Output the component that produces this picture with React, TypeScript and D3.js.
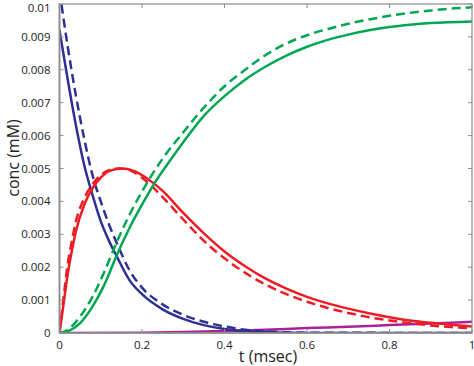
import React from "react";
import * as d3 from "d3";

const xTicks = [0, 0.2, 0.4, 0.6, 0.8, 1];
const xTickLabels = ["0", "0.2", "0.4", "0.6", "0.8", "1"];
const yTicks = [0, 0.001, 0.002, 0.003, 0.004, 0.005, 0.006, 0.007, 0.008, 0.009, 0.01];
const yTickLabels = ["0", "0.001", "0.002", "0.003", "0.004", "0.005", "0.006", "0.007", "0.008", "0.009", "0.01"];

const blueSolid: [number, number][] = [
  [0, 0.0092], [0.02, 0.0077], [0.04, 0.0063], [0.06, 0.0051], [0.08, 0.0042], [0.1, 0.0034],
  [0.12, 0.0028], [0.14, 0.0023], [0.17, 0.0016], [0.2, 0.00118], [0.25, 0.00072], [0.3, 0.00043],
  [0.35, 0.00024], [0.4, 0.00012], [0.45, 0.00005], [0.5, 0.00002], [0.6, 0], [1, 0],
];
const blueDashed: [number, number][] = [
  [0, 0.0104], [0.02, 0.0087], [0.04, 0.0072], [0.06, 0.0059], [0.08, 0.0048], [0.1, 0.004],
  [0.12, 0.0033], [0.14, 0.0027], [0.17, 0.0019], [0.2, 0.00138], [0.25, 0.00087], [0.3, 0.00055],
  [0.35, 0.00034], [0.4, 0.0002], [0.45, 0.0001], [0.5, 0.00005], [0.6, 0.00001], [1, 0],
];
const redSolid: [number, number][] = [
  [0, 0], [0.01, 0.0009], [0.02, 0.0018], [0.03, 0.0025], [0.04, 0.0031], [0.06, 0.0039],
  [0.08, 0.0044], [0.1, 0.00472], [0.12, 0.00492], [0.15, 0.005], [0.18, 0.00493], [0.21, 0.00472],
  [0.25, 0.00432], [0.3, 0.00365], [0.35, 0.00303], [0.4, 0.00248], [0.45, 0.00203], [0.5, 0.00165],
  [0.55, 0.00135], [0.6, 0.0011], [0.65, 0.0009], [0.7, 0.00074], [0.75, 0.0006], [0.8, 0.00048],
  [0.85, 0.00038], [0.9, 0.00031], [0.95, 0.00025], [1, 0.0002],
];
const redDashed: [number, number][] = [
  [0, 0], [0.01, 0.0011], [0.02, 0.0021], [0.03, 0.0028], [0.04, 0.0034], [0.06, 0.0041],
  [0.08, 0.00452], [0.1, 0.0048], [0.12, 0.00495], [0.145, 0.005], [0.17, 0.00495], [0.2, 0.00472],
  [0.25, 0.00413], [0.3, 0.00345], [0.35, 0.0028], [0.4, 0.00227], [0.45, 0.00183], [0.5, 0.00147],
  [0.55, 0.00118], [0.6, 0.00095], [0.65, 0.00076], [0.7, 0.00061], [0.75, 0.00048], [0.8, 0.00038],
  [0.85, 0.0003], [0.9, 0.00023], [0.95, 0.00018], [1, 0.00014],
];
const greenSolid: [number, number][] = [
  [0, 0], [0.02, 0.00005], [0.05, 0.0003], [0.08, 0.0008], [0.11, 0.0015], [0.14, 0.0024],
  [0.17, 0.0032], [0.2, 0.0039], [0.23, 0.00455], [0.26, 0.0051], [0.3, 0.0058], [0.35, 0.0066],
  [0.4, 0.0072], [0.45, 0.0077], [0.5, 0.0081], [0.55, 0.00843], [0.6, 0.0087], [0.65, 0.00891],
  [0.7, 0.00907], [0.75, 0.0092], [0.8, 0.0093], [0.85, 0.00937], [0.9, 0.00942], [1, 0.00947],
];
const greenDashed: [number, number][] = [
  [0, 0], [0.02, 0.0001], [0.05, 0.0005], [0.08, 0.0011], [0.11, 0.0019], [0.14, 0.0028],
  [0.17, 0.0036], [0.2, 0.0043], [0.25, 0.0053], [0.3, 0.0061], [0.35, 0.00685], [0.4, 0.0075],
  [0.45, 0.008], [0.5, 0.00845], [0.55, 0.0088], [0.6, 0.00905], [0.65, 0.00924], [0.7, 0.0094],
  [0.75, 0.00953], [0.8, 0.00964], [0.85, 0.00973], [0.9, 0.0098], [0.95, 0.00986], [1, 0.0099],
];
const magenta: [number, number][] = [
  [0, 0], [0.2, 0.00001], [0.3, 0.00003], [0.4, 0.00006], [0.5, 0.0001], [0.6, 0.00015],
  [0.7, 0.00019], [0.8, 0.00024], [0.9, 0.00029], [1, 0.00034],
];

const W = 474;
const H = 366;
const L = 59.5;
const R = 472;
const T = 4;
const B = 333;

export default function App() {
  const x = d3.scaleLinear().domain([0, 1]).range([L, R]);
  const y = d3.scaleLinear().domain([0, 0.01]).range([B, T]);
  const line = d3
    .line<[number, number]>()
    .x((d) => x(d[0]))
    .y((d) => y(d[1]))
    .curve(d3.curveMonotoneX);

  const series = [
    { d: magenta, c: "#a8239a", dash: undefined },
    { d: blueSolid, c: "#2e3192", dash: undefined },
    { d: blueDashed, c: "#2e3192", dash: "9,5" },
    { d: redSolid, c: "#ed1c24", dash: undefined },
    { d: redDashed, c: "#ed1c24", dash: "9,5" },
    { d: greenSolid, c: "#00a651", dash: undefined },
    { d: greenDashed, c: "#00a651", dash: "9,5" },
  ];

  const axisColor = "#8c8c8c";
  const font = "'Open Sans', 'Noto Sans', sans-serif";

  return (
    <svg width={W} height={H} style={{ position: "absolute", left: 0, top: 0, background: "#fff" }}>
      <defs>
        <clipPath id="plotclip">
          <rect x={L} y={T} width={R - L} height={B - T} />
        </clipPath>
      </defs>
      <g clipPath="url(#plotclip)">
        {series.map((s, i) => (
          <path
            key={i}
            d={line(s.d) || ""}
            fill="none"
            stroke={s.c}
            strokeWidth={2.5}
            strokeDasharray={s.dash}
          />
        ))}
      </g>
      <rect x={L} y={T} width={R - L} height={B - T} fill="none" stroke={axisColor} strokeWidth={1.2} />
      <line x1={L} x2={L} y1={T} y2={B} stroke={axisColor} strokeWidth={1.8} />
      <line x1={L} x2={R} y1={B} y2={B} stroke={axisColor} strokeWidth={1.5} />
      {yTicks.map((t, i) => (
        <g key={"y" + i}>
          <line x1={L} x2={L + 4} y1={y(t)} y2={y(t)} stroke={axisColor} strokeWidth={1} />
          <line x1={R} x2={R - 4} y1={y(t)} y2={y(t)} stroke={axisColor} strokeWidth={1} />
          <text
            x={L - 9}
            y={Math.max(y(t) + 4, 11.5)}
            textAnchor="end"
            fontFamily={font}
            fontSize={11.5}
            fill="#222"
          >
            {yTickLabels[i]}
          </text>
        </g>
      ))}
      {xTicks.map((t, i) => (
        <g key={"x" + i}>
          <line x1={x(t)} x2={x(t)} y1={B} y2={B - 4} stroke={axisColor} strokeWidth={1} />
          <line x1={x(t)} x2={x(t)} y1={T} y2={T + 4} stroke={axisColor} strokeWidth={1} />
          <text
            x={x(t)}
            y={349}
            textAnchor="middle"
            fontFamily={font}
            fontSize={11.5}
            fill="#222"
          >
            {xTickLabels[i]}
          </text>
        </g>
      ))}
      <text x={268} y={362} textAnchor="middle" fontFamily={font} fontSize={16} fill="#222">
        t (msec)
      </text>
      <text
        transform={`translate(19, 158) rotate(-90)`}
        textAnchor="middle"
        fontFamily={font}
        fontSize={16}
        fill="#222"
      >
        conc (mM)
      </text>
    </svg>
  );
}
